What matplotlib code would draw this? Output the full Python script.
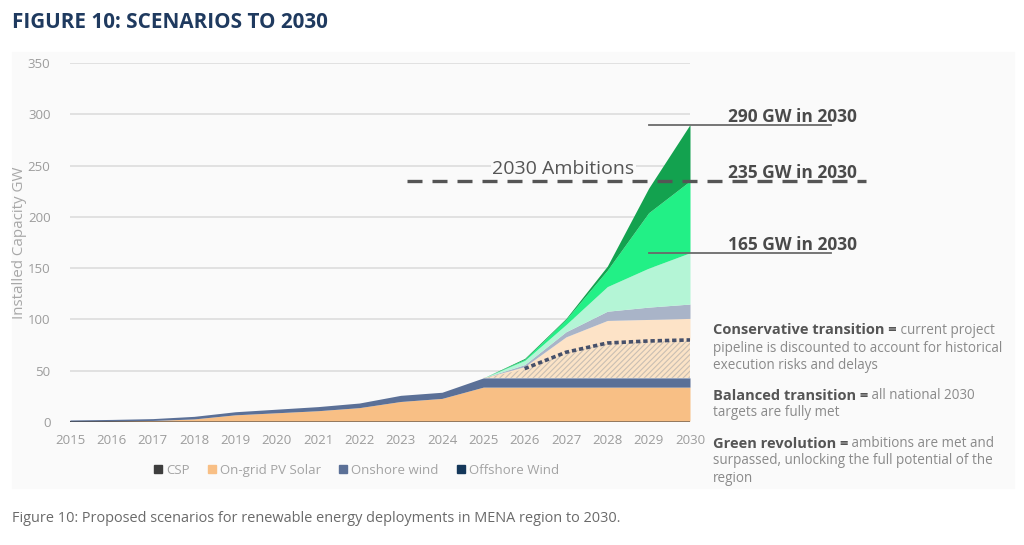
"""
plot.py — MENA renewable scenarios to 2030 (stacked areas + scenario wedges).
"""
import matplotlib
matplotlib.use("Agg")
import matplotlib.pyplot as plt
from matplotlib.patches import Patch, Rectangle

plt.rcParams["font.family"] = ["Open Sans", "DejaVu Sans"]
plt.rcParams["hatch.linewidth"] = 0.8

# ─── data ────────────────────────────────────────────────────────────────────────
years = list(range(2015, 2031))
csp = [1.0, 1.0, 1.0, 1.0, 1.0, 1.0, 1.0, 1.0, 1.0, 1.0, 1.0, 1.0, 1.0, 1.0, 1.0, 1.0]
pv_solar = [0.0, 0.2, 0.5, 2.0, 6.0, 8.0, 10.0, 13.0, 19.0, 22.0, 33.0, 33.0, 33.0, 33.0, 33.0, 33.0]
onshore_wind = [1.0, 1.3, 1.8, 2.5, 3.0, 3.5, 4.0, 4.5, 6.0, 6.0, 9.0, 9.0, 9.0, 9.0, 9.0, 9.0]
offshore_wind = [0.0] * 16

# scenario tops (cumulative GW), 2025 .. 2030
scen_years = [2025, 2026, 2027, 2028, 2029, 2030]
conservative = [43, 52, 68, 77, 79, 80]
balanced_pv = [43, 54, 83, 99, 100, 101]
balanced_wind = [43, 56, 88, 108, 112, 115]
green_165 = [43, 60, 95, 132, 150, 165]
green_235 = [43, 61, 100, 148, 204, 235]
green_290 = [43, 62, 101, 152, 228, 290]

target_labels = ["290 GW in 2030", "235 GW in 2030", "165 GW in 2030"]
target_values = [290, 235, 165]

legend_labels = ["CSP", "On-grid PV Solar", "Onshore wind", "Offshore Wind"]
legend_colors = ["#3d3d3d", "#f8bf85", "#5b7097", "#14375a"]

# ─── figure ──────────────────────────────────────────────────────────────────────
fig = plt.figure(figsize=(10.24, 5.45), dpi=100)
fig.patches.append(Rectangle((12 / 1024, 1 - 488 / 545), 1002 / 1024, 436 / 545,
                             transform=fig.transFigure, color="#fafafa", zorder=-5))
ax = fig.add_axes([70 / 1024, 1 - 422 / 545, 620 / 1024, 359 / 545])
ax.set_facecolor("none")

# historical stack
base = [0.0] * len(years)
for vals, col in zip([csp, pv_solar, onshore_wind, offshore_wind], legend_colors):
    top = [b + v for b, v in zip(base, vals)]
    ax.fill_between(years, base, top, color=col, lw=0, zorder=3)
    base = top

# scenario wedges (bottom to top)
base_2025 = base[-6:]
ax.fill_between(scen_years, base_2025, conservative, facecolor="#fbe3c6",
                edgecolor="#c9bfb3", hatch="//////", lw=0, zorder=2)
ax.plot(scen_years[1:], conservative[1:], color="#46506a", lw=2.6,
        dashes=(1.2, 0.8), zorder=4)
ax.fill_between(scen_years, conservative, balanced_pv, color="#fde3c7", lw=0, zorder=2)
ax.fill_between(scen_years, balanced_pv, balanced_wind, color="#a9b4c8", lw=0, zorder=2)
ax.fill_between(scen_years, balanced_wind, green_165, color="#b4f5d6", lw=0, zorder=2)
ax.fill_between(scen_years, green_165, green_235, color="#22f086", lw=0, zorder=2)
ax.fill_between(scen_years, green_235, green_290, color="#13a24f", lw=0, zorder=2)

# axes cosmetics
ax.set_xlim(2015, 2030)
ax.set_ylim(0, 350)
ax.set_yticks(range(0, 351, 50))
ax.set_xticks(years)
ax.grid(axis="y", color="#dcdcdc", lw=1.2, zorder=1)
ax.set_axisbelow(True)
for s in ax.spines.values():
    s.set_visible(False)
ax.tick_params(length=0, colors="#9c9c9c", labelsize=9.5)
ax.tick_params(axis="y", pad=14)
ax.tick_params(axis="x", pad=9)
fig.text(20 / 1024, 1 - 243 / 545, "Installed Capacity GW", rotation=90,
         ha="center", va="center", color="#a8a8a8", fontsize=10.9)

# ambition markers
ax.plot([2023.15, 2034.25], [235, 235], color="#555555", lw=2.4,
        dashes=(4.5, 3), clip_on=False, zorder=6)
ax.text(2026.93, 246.5, "2030 Ambitions", ha="center", va="center",
        fontsize=14, color="#555555", zorder=5,
        bbox=dict(facecolor="#fafafa", edgecolor="none", pad=1))
for val in (290, 165):
    ax.plot([2029.0, 2033.4], [val, val], color="#6a6a6a", lw=1.3,
            clip_on=False, zorder=6)
for lab, val in zip(target_labels, target_values):
    ax.text(2030.92, val + 7.5, lab, ha="left", va="center", fontsize=12.5,
            fontweight="bold", color="#4a4a4a", clip_on=False)

# legend
handles = [Patch(color=c, label=l) for c, l in zip(legend_colors, legend_labels)]
ax.legend(handles=handles, loc="center", bbox_to_anchor=(0.462, -0.134), ncol=4,
          frameon=False, handlelength=0.6, handleheight=0.6, handletextpad=0.3,
          columnspacing=1.4, labelcolor="#a3a3a3", fontsize=9.5)

# scenario descriptions
blocks = [
    (329, "Conservative transition =", ["current project",
                                        "pipeline is discounted to account for historical",
                                        "execution risks and delays"]),
    (394, "Balanced transition =", ["all national 2030", "targets are fully met"]),
    (442, "Green revolution =", ["ambitions are met and",
                                 "surpassed, unlocking the full potential of the",
                                 "region"]),
]
for y, head, rest in blocks:
    t = fig.text(713 / 1024, 1 - (y + 1.5) / 545, head, ha="left", va="center",
                 fontsize=10.5, fontweight="bold", color="#555555")
    ax.annotate(" " + rest[0], xy=(1, 0.5), xycoords=t, ha="left", va="center",
                fontsize=9.75, color="#8a8a8a", annotation_clip=False)
    for i, line in enumerate(rest[1:], start=1):
        fig.text(713 / 1024, 1 - (y + 1.5 + 17.5 * i) / 545, line, ha="left",
                 va="center", fontsize=9.75, color="#8a8a8a")

fig.text(12 / 1024, 1 - 22 / 545, "FIGURE 10: SCENARIOS TO 2030", ha="left",
         va="center", fontsize=14.9, fontweight="bold", color="#1f3a5f")
fig.text(12 / 1024, 1 - 518 / 545,
         "Figure 10: Proposed scenarios for renewable energy deployments in MENA region to 2030.",
         ha="left", va="center", fontsize=10.45, color="#6a6a6a")

fig.savefig("out.png", dpi=100)
